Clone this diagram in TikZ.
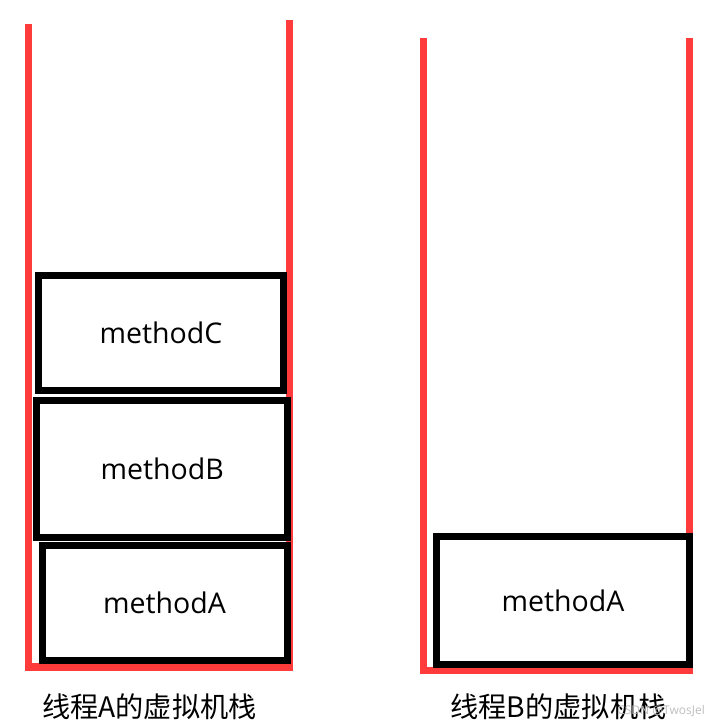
\documentclass[tikz,border=0pt]{standalone}
\usepackage{fontspec}
\setmainfont{Open Sans}
\newfontfamily\cjk{Noto Sans CJK SC}
\definecolor{stackred}{RGB}{255,59,59}
\begin{document}
\begin{tikzpicture}[x=1pt,y=-1pt,
  stackwall/.style={draw=stackred,line width=7.5pt,line join=miter,line cap=butt},
  methodbox/.style={draw=black,line width=7pt,inner sep=0pt,font=\fontsize{28.5}{31}\selectfont},
  stacklabel/.style={inner sep=0pt,font=\cjk\fontsize{28.2}{31}\selectfont},
  wmark/.style={inner sep=0pt,text=black!25,font=\fontsize{12}{14}\selectfont}]
\useasboundingbox[fill=white] (0,0) rectangle (719,728);
% stack A walls
\coordinate (aTL) at (28.5,24);
\coordinate (aBL) at (28.5,667);
\coordinate (aBR) at (289.5,667);
\coordinate (aTR) at (289.5,20);
\draw[stackwall] (aTL) -- (aBL) -- (aBR) -- (aTR);
% stack B walls
\coordinate (bTL) at (423.5,38);
\coordinate (bBL) at (423.5,670.5);
\coordinate (bBR) at (689.5,670.5);
\coordinate (bTR) at (689.5,38);
\draw[stackwall] (bTL) -- (bBL) -- (bBR) -- (bTR);
% frames
\node[methodbox,minimum width=245pt,minimum height=115pt] (mC) at (161,333) {methodC};
\node[methodbox,minimum width=250.5pt,minimum height=137pt] (mB) at (162.2,469) {methodB};
\node[methodbox,minimum width=245pt,minimum height=115pt] (mA) at (164.5,603) {methodA};
\node[methodbox,minimum width=253pt,minimum height=128pt] (mA2) at (563,600.5) {methodA};
% labels
\node[stacklabel] (labA) at (149.5,707) {线程A的虚拟机栈};
\node[stacklabel] (labB) at (558.5,707) {线程B的虚拟机栈};
\node[wmark,anchor=east] (wm) at (705,711) {CSDN @TwosJel};
\end{tikzpicture}
\end{document}
